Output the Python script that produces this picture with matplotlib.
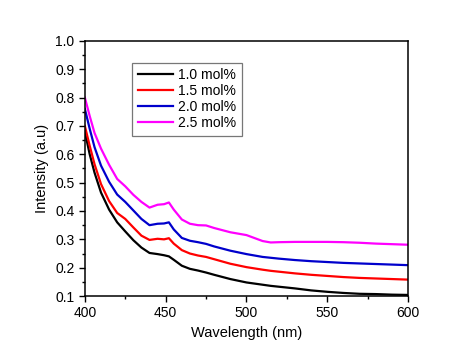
import matplotlib
matplotlib.use("Agg")
import matplotlib.pyplot as plt
from matplotlib.ticker import MultipleLocator

plt.rcParams['font.family'] = ['Liberation Sans', 'DejaVu Sans']

# Wavelength (nm) sample points
wavelength = [400, 403, 406, 410, 415, 420, 425, 430, 435, 440, 445, 449, 452,
              455, 460, 465, 470, 475, 480, 490, 500, 510, 515, 520, 530, 540,
              550, 560, 570, 580, 590, 600]

int_10 = [0.68, 0.60, 0.535, 0.465, 0.405, 0.36, 0.328, 0.297, 0.271, 0.252, 0.248,
          0.244, 0.240, 0.228, 0.207, 0.196, 0.190, 0.183, 0.175, 0.160, 0.148,
          0.140, 0.136, 0.133, 0.127, 0.120, 0.115, 0.111, 0.108, 0.107, 0.105, 0.104]
int_15 = [0.70, 0.63, 0.565, 0.495, 0.435, 0.393, 0.372, 0.342, 0.313, 0.298, 0.302,
          0.300, 0.304, 0.285, 0.262, 0.250, 0.243, 0.238, 0.230, 0.214, 0.202,
          0.193, 0.189, 0.186, 0.180, 0.175, 0.171, 0.167, 0.164, 0.162, 0.160, 0.158]
int_20 = [0.76, 0.69, 0.625, 0.56, 0.503, 0.458, 0.432, 0.402, 0.372, 0.35, 0.355,
          0.356, 0.36, 0.335, 0.305, 0.295, 0.290, 0.284, 0.275, 0.260, 0.248,
          0.238, 0.235, 0.232, 0.227, 0.223, 0.220, 0.217, 0.215, 0.213, 0.211, 0.209]
int_25 = [0.80, 0.735, 0.675, 0.62, 0.563, 0.513, 0.487, 0.457, 0.432, 0.412, 0.422,
          0.424, 0.43, 0.405, 0.37, 0.355, 0.350, 0.349, 0.340, 0.325, 0.315,
          0.294, 0.289, 0.290, 0.291, 0.291, 0.291, 0.290, 0.288, 0.285, 0.283, 0.281]

labels = ['1.0 mol%', '1.5 mol%', '2.0 mol%', '2.5 mol%']
colors = ['black', 'red', '#0000cc', '#ff00ff']

fig = plt.figure(figsize=(4.74, 3.55), dpi=100)
ax = fig.add_axes([0.179, 0.166, 0.682, 0.719])

for y, lab, c in zip([int_10, int_15, int_20, int_25], labels, colors):
    ax.plot(wavelength, y, color=c, lw=1.6, label=lab)

ax.set_xlim(400, 600)
ax.set_ylim(0.1, 1.0)
ax.xaxis.set_major_locator(MultipleLocator(50))
ax.xaxis.set_minor_locator(MultipleLocator(25))
ax.yaxis.set_major_locator(MultipleLocator(0.1))
ax.yaxis.set_minor_locator(MultipleLocator(0.05))
ax.tick_params(which='both', direction='out', labelsize=10, width=1)
ax.tick_params(which='major', length=4)
ax.tick_params(which='minor', length=2.5)
for s in ax.spines.values():
    s.set_linewidth(1.1)

ax.set_xlabel('Wavelength (nm)', fontsize=10.5)
ax.set_ylabel('Intensity (a.u)', fontsize=10.5)

leg = ax.legend(loc='upper left', bbox_to_anchor=(0.147, 0.915), fontsize=10,
                fancybox=False, framealpha=1, edgecolor='#777777',
                handlelength=2.5, labelspacing=0.15, borderpad=0.4,
                borderaxespad=0, handletextpad=0.4)
leg.get_frame().set_linewidth(0.9)

fig.savefig('out.png', dpi=100)
